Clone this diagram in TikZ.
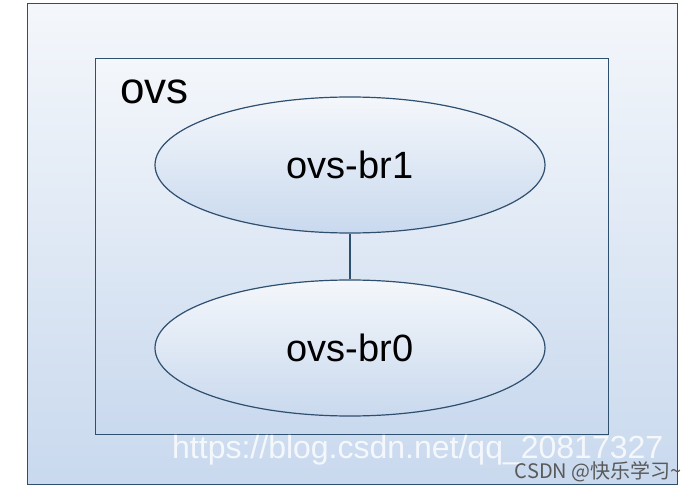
\documentclass[tikz,border=0pt]{standalone}
\usepackage{fontspec}
\setmainfont{Liberation Sans}
\newfontfamily\cjk{Noto Sans CJK SC}
\usetikzlibrary{shapes.geometric}
\definecolor{edge}{HTML}{2F4F6F}
\definecolor{top}{HTML}{F4F7FB}
\definecolor{bot}{HTML}{C9D9EE}
\tikzset{
 panel/.style={draw=edge, line width=1.2pt, top color=top, bottom color=bot},
 bridge/.style={ellipse, draw=edge, line width=1.2pt, top color=top, bottom color=bot, minimum width=390pt, minimum height=136pt, font=\fontsize{38}{44}\selectfont},
}
\begin{document}
\begin{tikzpicture}[x=1pt,y=-1pt]
\useasboundingbox (0,0) rectangle (694,492);
\fill[white] (0,0) rectangle (694,492);
\node[panel, minimum width=650pt, minimum height=481pt, inner sep=0, anchor=north west] (outer) at (27,3) {};
\node[panel, minimum width=513pt, minimum height=376pt, inner sep=0, anchor=north west] (inner) at (95,58) {};
\node[anchor=west, inner sep=0, font=\fontsize{44}{50}\selectfont] (lbl) at (120,92) {ovs};
\node[bridge] (br1) at (350,165) {ovs-br1};
\node[bridge] (br0) at (350,348) {ovs-br0};
\draw[edge, line width=1.8pt] (br1) -- (br0);
\node[anchor=west, inner sep=0, font=\fontsize{32}{36}\selectfont, text=white, opacity=0.8] (wm) at (172,450) {https://blog.csdn.net/qq\_20817327};
\node[anchor=east, inner sep=0, font=\fontsize{20}{22}\selectfont\cjk, text=gray!70!black] (wm2) at (682,472) {CSDN @快乐学习\textasciitilde};
\end{tikzpicture}
\end{document}
